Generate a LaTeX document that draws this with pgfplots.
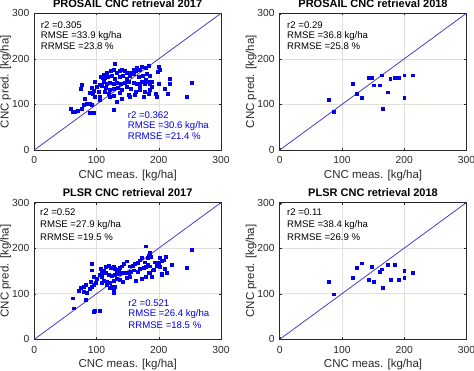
\documentclass[border=0pt]{standalone}
\usepackage{fontspec}
\setmainfont{Liberation Sans}
\usepackage{pgfplots}
\pgfplotsset{compat=1.18}
\definecolor{mblue}{RGB}{0,0,235}
\definecolor{lblue}{RGB}{70,60,200}
\definecolor{gridc}{RGB}{225,225,220}
\definecolor{axc}{RGB}{40,40,40}
\pgfplotsset{
  cncax/.style={
    scale only axis, width=186.7pt, height=136.7pt,
    xmin=0, xmax=300, ymin=0, ymax=300,
    xtick={0,100,200,300}, ytick={0,100,200,300},
    grid=major, major grid style={gridc, line width=0.5pt},
    axis line style={axc, line width=0.6pt},
    tick style={axc}, tick align=inside, major tick length=2pt,
    /pgf/number format/assume math mode=true,
    tick label style={font=\fontsize{10.3}{12}\selectfont, text=axc},
    xticklabel style={yshift=-3pt},
    yticklabel style={xshift=-1.5pt},
    label style={font=\fontsize{11.5}{13}\selectfont, text=axc},
    xlabel={CNC meas. [kg/ha]}, ylabel={CNC pred. [kg/ha]},
    xlabel style={at={(axis description cs:0.5,-0.188)}, anchor=center},
    ylabel style={at={(axis description cs:-0.153,0.5)}, rotate=0, anchor=center},
    every axis title shift=2pt,
    title style={font=\fontsize{11}{13}\selectfont\bfseries, anchor=south},
    clip=false,
  },
  pts/.style={only marks, mark=square*, mark size=1.4pt, mblue, mark options={draw=mblue, fill=mblue}},
  oneone/.style={lblue, line width=0.8pt, no marks},
}
\newcommand{\statnode}[4]{\node[anchor=west, inner sep=0pt, font=\fontsize{9.6}{11}\selectfont, text=#4] at (axis cs:#1,#2) {#3};}
\begin{document}
\begin{tikzpicture}
\useasboundingbox (0,0) rectangle (474pt,-371pt);
% ---------- PROSAIL 2017
\begin{axis}[cncax, at={(34.3pt,-150pt)}, anchor=south west, title={PROSAIL CNC retrieval 2017}]
\addplot[oneone] coordinates {(0,0) (300,300)};
\addplot[pts] table {
x y
128.6 188.7
183.3 185.0
179.0 181.4
199.9 182.8
201.0 177.0
198.3 171.9
172.0 182.8
164.5 181.4
169.9 177.0
163.4 174.0
159.2 175.5
155.4 169.7
148.4 169.7
144.7 174.0
140.9 177.0
137.7 174.0
132.4 169.7
127.0 175.5
122.7 173.3
116.3 170.4
110.9 166.0
109.9 159.4
106.7 160.9
113.6 158.7
117.9 160.9
124.9 162.3
129.7 157.2
136.7 160.9
142.0 162.3
148.4 157.2
153.8 162.3
160.2 166.7
167.2 160.9
174.2 162.3
180.6 166.7
184.9 162.3
179.5 155.0
172.5 149.9
181.7 149.2
185.9 146.3
188.6 149.9
177.9 146.3
168.3 144.8
164.5 146.3
159.2 147.7
151.1 149.9
145.8 147.7
138.8 146.3
132.4 148.4
127.0 146.3
121.7 147.7
116.3 146.3
110.9 149.9
104.5 142.6
100.2 138.9
108.3 140.4
114.2 137.5
120.6 133.1
127.0 135.3
133.4 137.5
140.4 131.6
148.4 138.9
155.4 135.3
163.4 128.0
169.9 133.1
177.9 128.0
184.9 131.6
195.1 124.3
199.9 146.3
210.0 135.3
213.8 124.3
217.0 146.3
218.1 157.2
252.9 147.7
245.4 117.0
92.7 137.5
89.5 125.8
93.8 124.3
94.9 130.2
76.1 142.6
74.5 135.3
84.2 102.4
88.4 100.9
92.2 98.7
78.8 98.7
76.1 91.4
69.2 86.3
65.4 84.1
59.0 89.9
61.7 83.3
88.4 81.9
94.9 81.9
97.5 117.0
105.6 117.0
119.0 124.3
127.0 118.5
132.4 106.0
127.0 87.7
140.4 113.3
151.1 120.6
183.3 124.3
196.7 117.0
153.8 117.0
105.6 109.7
81.5 113.3
97.5 149.9
102.9 128.0
113.6 128.0
121.7 117.0
137.7 125.8
161.8 120.6
175.2 117.0
169.9 140.4
188.6 138.9
};
\statnode{10.3}{274}{r2 =0.305}{black}
\statnode{10.3}{250}{RMSE =33.9 kg/ha}{black}
\statnode{10.3}{227}{RRMSE =23.8 \%}{black}
\statnode{150}{76.8}{r2 =0.362}{mblue}
\statnode{150}{52.7}{RMSE =30.6 kg/ha}{mblue}
\statnode{150}{29.2}{RRMSE =21.4 \%}{mblue}
\end{axis}
% ---------- PROSAIL 2018
\begin{axis}[cncax, at={(279.7pt,-150pt)}, anchor=south west, title={PROSAIL CNC retrieval 2018}]
\addplot[oneone] coordinates {(0,0) (300,300)};
\addplot[pts] table {
x y
79 110.5
87 84
117.7 145
123.7 124
131.7 115
142.5 159.5
147.8 158
151.6 142
161 142
164 164
165 91.5
173 127
177.4 156.6
185 158
191 159.5
200 164
200 115
213.4 164
};
\statnode{11.8}{274}{r2 =0.29}{black}
\statnode{11.8}{250}{RMSE =36.8 kg/ha}{black}
\statnode{11.8}{227}{RRMSE =25.8 \%}{black}
\end{axis}
% ---------- PLSR 2017
\begin{axis}[cncax, at={(34.3pt,-339.3pt)}, anchor=south west, title={PLSR CNC retrieval 2017}]
\addplot[oneone] coordinates {(0,0) (300,300)};
\addplot[pts] table {
x y
179.5 204.4
252.9 197.0
184.9 189.7
183.3 183.8
187.0 180.9
181.7 178.7
202.0 178.7
211.7 180.9
208.4 173.5
204.7 171.3
199.3 167.6
172.5 178.7
168.8 173.5
165.6 167.6
161.8 166.2
158.1 161.7
153.8 160.3
148.4 171.3
144.2 166.2
140.4 160.3
137.7 156.6
135.0 152.9
132.4 149.2
177.9 169.1
181.7 164.0
184.9 160.3
179.5 158.8
175.2 156.6
194.0 169.1
196.7 161.7
192.4 152.9
169.9 154.4
165.6 149.2
160.2 151.5
154.9 149.2
151.1 145.6
145.8 147.0
140.4 145.6
135.0 143.4
129.7 141.9
124.3 139.7
119.0 141.9
115.2 147.0
110.9 150.7
108.3 147.0
104.5 141.9
115.2 158.8
119.0 161.7
122.7 156.6
127.0 160.3
129.7 154.4
92.2 166.2
92.2 151.5
106.7 154.4
109.9 145.6
94.9 138.2
100.2 132.3
108.3 136.7
112.0 129.4
116.3 127.2
121.7 125.0
127.0 129.4
132.4 132.3
137.7 130.9
142.0 127.2
148.4 134.5
153.8 138.2
163.4 129.4
172.5 132.3
179.5 136.7
184.9 145.6
190.2 151.5
202.0 158.8
204.7 144.1
220.8 164.0
244.9 156.6
90.6 127.2
83.1 119.8
78.8 116.2
74.5 112.5
70.8 107.3
78.8 105.1
84.2 101.5
88.4 110.3
92.2 116.2
94.9 119.8
99.2 123.5
83.1 86.7
62.7 68.4
61.1 90.4
108.3 123.5
116.3 119.8
124.3 116.2
127.0 112.5
129.7 116.2
127.0 107.3
127.0 102.9
121.7 112.5
94.9 61.0
97.5 62.5
105.6 62.5
183.3 147.0
188.6 138.2
210.0 154.4
212.7 145.6
205.0 142.0
};
\statnode{9}{278}{r2 =0.52}{black}
\statnode{9}{250.5}{RMSE =27.9 kg/ha}{black}
\statnode{9}{225}{RRMSE =19.5 \%}{black}
\statnode{151}{79.4}{r2 =0.521}{mblue}
\statnode{151}{55.2}{RMSE =26.4 kg/ha}{mblue}
\statnode{151}{30}{RRMSE =18.5 \%}{mblue}
\end{axis}
% ---------- PLSR 2018
\begin{axis}[cncax, at={(279.7pt,-339.3pt)}, anchor=south west, title={PLSR CNC retrieval 2018}]
\addplot[oneone] coordinates {(0,0) (300,300)};
\addplot[pts] table {
x y
79 127
87 99
117.7 136
123.7 158
131.7 167
142.5 130
147.8 159.6
151.6 127
161 148
164 154
165 112.5
173 164
178.5 131
185 163
191 131
200 136
200 151
213.4 146
};
\statnode{11.8}{278}{r2 =0.11}{black}
\statnode{11.8}{250.5}{RMSE =38.4 kg/ha}{black}
\statnode{11.8}{225}{RRMSE =26.9 \%}{black}
\end{axis}
\end{tikzpicture}
\end{document}
